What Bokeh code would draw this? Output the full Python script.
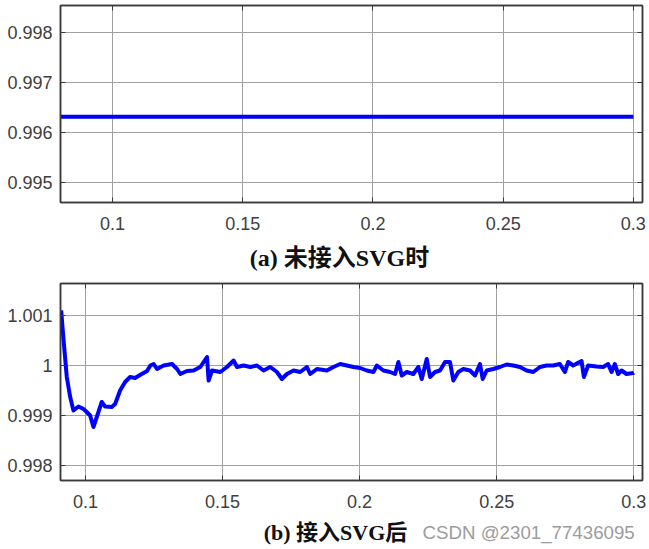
from bokeh.plotting import figure
from bokeh.models import Range1d, FixedTicker, LinearAxis
from bokeh.layouts import column
from bokeh.core.properties import value
from bokeh.embed import file_html
from bokeh.resources import INLINE

# ---------------- data: panel (a) without SVG ----------------
a_time = [0.08, 0.30]
a_pf = [0.99632, 0.99632]
a_xticks = [0.1, 0.15, 0.2, 0.25, 0.3]
a_xlabels = ["0.1", "0.15", "0.2", "0.25", "0.3"]
a_yticks = [0.995, 0.996, 0.997, 0.998]
a_ylabels = ["0.995", "0.996", "0.997", "0.998"]
a_title = "(a) 未接入SVG时"

# ---------------- data: panel (b) with SVG ----------------
b_time = [0.09115, 0.09162, 0.09235, 0.09319, 0.09443, 0.09563, 0.09745, 0.09927,
          0.10047, 0.10171, 0.10291, 0.10353, 0.10474, 0.10594, 0.10718, 0.10958,
          0.11082, 0.11264, 0.11446, 0.11628, 0.11811, 0.12051, 0.12248, 0.12368,
          0.12488, 0.12612, 0.12852, 0.13158, 0.13341, 0.13461, 0.13705, 0.13945,
          0.14189, 0.14434, 0.14492, 0.14616, 0.14918, 0.15162, 0.15403, 0.15527,
          0.15767, 0.16011, 0.16255, 0.16495, 0.16740, 0.16984, 0.17166, 0.17348,
          0.17589, 0.17832, 0.18077, 0.18197, 0.18441, 0.18805, 0.19045, 0.19290,
          0.19534, 0.19774, 0.20018, 0.20262, 0.20503, 0.20627, 0.20867, 0.21111,
          0.21293, 0.21413, 0.21537, 0.21720, 0.21960, 0.22142, 0.22266, 0.22448,
          0.22568, 0.22751, 0.22933, 0.23115, 0.23297, 0.23417, 0.23600, 0.23782,
          0.24026, 0.24208, 0.24390, 0.24488, 0.24634, 0.24874, 0.25118, 0.25362,
          0.25603, 0.25847, 0.26091, 0.26332, 0.26576, 0.26820, 0.27060, 0.27304,
          0.27486, 0.27607, 0.27789, 0.28095, 0.28179, 0.28335, 0.28641, 0.28882,
          0.29064, 0.29188, 0.29308, 0.29428, 0.29552, 0.29734, 0.29974, 0.30000]
b_pf = [1.00110, 1.00077, 1.00030, 0.99977, 0.99937, 0.99910, 0.99918, 0.99913,
        0.99907, 0.99900, 0.99877, 0.99887, 0.99907, 0.99927, 0.99918, 0.99917,
        0.99923, 0.99950, 0.99967, 0.99977, 0.99975, 0.99983, 0.99989, 1.00000,
        1.00003, 0.99993, 1.00000, 1.00003, 0.99993, 0.99983, 0.99989, 0.99990,
        0.99997, 1.00017, 0.99970, 0.99990, 0.99987, 0.99997, 1.00010, 0.99997,
        1.00000, 0.99997, 1.00000, 0.99990, 0.99997, 0.99987, 0.99973, 0.99983,
        0.99990, 0.99987, 0.99997, 0.99983, 0.99993, 0.99990, 0.99997, 1.00003,
        1.00000, 0.99997, 0.99995, 0.99990, 0.99987, 1.00000, 0.99990, 0.99987,
        0.99983, 1.00007, 0.99980, 0.99987, 0.99983, 0.99997, 0.99973, 1.00013,
        0.99977, 0.99987, 0.99990, 1.00007, 1.00007, 0.99970, 0.99987, 0.99993,
        0.99990, 0.99980, 1.00003, 0.99973, 0.99990, 0.99993, 0.99997, 1.00002,
        1.00000, 0.99997, 0.99990, 0.99987, 0.99997, 1.00000, 1.00000, 1.00003,
        0.99987, 1.00007, 1.00000, 1.00009, 0.99977, 1.00000, 0.99998, 0.99997,
        1.00003, 0.99987, 1.00003, 0.99983, 0.99990, 0.99983, 0.99985, 0.99986]
b_xticks = [0.1, 0.15, 0.2, 0.25, 0.3]
b_xlabels = ["0.1", "0.15", "0.2", "0.25", "0.3"]
b_yticks = [0.998, 0.999, 1.0, 1.001]
b_ylabels = ["0.998", "0.999", "1", "1.001"]
b_title = "(b) 接入SVG后"
watermark = "CSDN @2301_77436095"

W = 649
FRAME_LEFT, FRAME_RIGHT = 60, 642
TICK_FONT = "'Liberation Sans', Arial, Helvetica, sans-serif"
TITLE_FONT = "'Liberation Serif', 'Times New Roman', 'Noto Sans CJK SC', serif"
FRAME = "#3a3a3a"
GRID = "#a0a0a0"
LABEL = "#404040"


def mirror_axis(ticks):
    return LinearAxis(ticker=FixedTicker(ticks=ticks),
                      major_label_overrides={t: "" for t in ticks},
                      major_label_text_font_size="1px",
                      major_label_standoff=0, major_tick_in=5, major_tick_out=0,
                      minor_tick_line_color=None, major_tick_line_color=FRAME,
                      axis_line_color=FRAME, axis_line_width=1.5)


def make_panel(height, xr, yr, xticks, xlabels, yticks, ylabels, min_top, min_bottom):
    p = figure(width=W, height=height, x_range=Range1d(*xr), y_range=Range1d(*yr),
               output_backend="svg", toolbar_location=None,
               min_border_left=FRAME_LEFT, min_border_right=W - FRAME_RIGHT,
               min_border_top=min_top, min_border_bottom=min_bottom)
    p.background_fill_color = "white"
    p.border_fill_color = "white"
    p.outline_line_color = FRAME
    p.outline_line_width = 1.5
    for ax, ticks, labels in ((p.xaxis[0], xticks, xlabels), (p.yaxis[0], yticks, ylabels)):
        ax.ticker = FixedTicker(ticks=ticks)
        ax.major_label_overrides = dict(zip(ticks, labels))
        ax.major_label_text_font = TICK_FONT
        ax.major_label_text_font_size = "18px"
        ax.major_label_text_color = LABEL
        ax.major_tick_in = 5
        ax.major_tick_out = 0
        ax.minor_tick_line_color = None
        ax.major_tick_line_color = FRAME
        ax.axis_line_color = FRAME
        ax.axis_line_width = 1.5
    p.xaxis[0].major_label_standoff = 14
    p.yaxis[0].major_label_standoff = 8
    p.add_layout(mirror_axis(xticks), "above")
    p.add_layout(mirror_axis(yticks), "right")
    p.xgrid.ticker = FixedTicker(ticks=xticks)
    p.ygrid.ticker = FixedTicker(ticks=yticks)
    p.xgrid.grid_line_color = GRID
    p.ygrid.grid_line_color = GRID
    p.xgrid.grid_line_width = 1
    p.ygrid.grid_line_width = 1
    return p


def caption_strip(height, xs, texts, fonts, sizes, styles, colors, aligns):
    # the column aligns this strip's frame with the plots' frames (x 60..642),
    # so the range is expressed in page pixels over that span
    c = figure(width=W, height=height, x_range=Range1d(FRAME_LEFT, FRAME_RIGHT),
               y_range=Range1d(0, height),
               output_backend="svg", toolbar_location=None,
               x_axis_location=None, y_axis_location=None,
               min_border_left=FRAME_LEFT, min_border_right=W - FRAME_RIGHT,
               min_border_top=0, min_border_bottom=0)
    c.grid.visible = False
    c.outline_line_color = None
    c.background_fill_color = "white"
    c.border_fill_color = "white"
    for x, t, f, s, st, col, al in zip(xs, texts, fonts, sizes, styles, colors, aligns):
        c.text(x=[x], y=[height / 2], text=[t], text_font=value(f), text_font_size=value(s),
               text_font_style=st, text_color=col, text_align=al, text_baseline="middle")
    return c


# panel (a): frame from y=5 to y=202
pa = make_panel(240, (0.08, 0.3035), (0.994606, 0.998546),
                a_xticks, a_xlabels, a_yticks, a_ylabels, 5, 38)
pa.line(a_time, a_pf, line_color="#0000ff", line_width=4)
cap_a = caption_strip(35, [339], [a_title], [TITLE_FONT], ["24px"], ["bold"],
                      ["#111111"], ["center"])

# panel (b): frame from y=283 to y=480
pb = make_panel(240, (0.0909, 0.30317), (0.9977, 1.00164),
                b_xticks, b_xlabels, b_yticks, b_ylabels, 8, 35)
pb.line(b_time, b_pf, line_color="#0000ff", line_width=4, line_join="round")
cap_b = caption_strip(34, [335, 422], [b_title, watermark], [TITLE_FONT, TICK_FONT],
                      ["22px", "18.7px"], ["bold", "normal"], ["#111111", "#9c9c9c"],
                      ["center", "left"])

layout = column(pa, cap_a, pb, cap_b, spacing=0)
open("out.html", "w").write(file_html(layout, INLINE))
